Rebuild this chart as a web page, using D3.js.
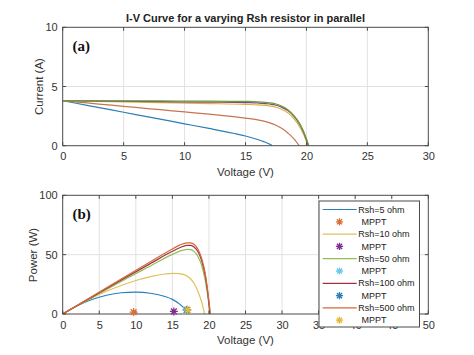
<!DOCTYPE html>
<html><head><meta charset="utf-8">
<script src="https://cdn.jsdelivr.net/npm/d3@7"></script>
<style>body{margin:0;background:#fff}svg{display:block}text{font-family:"Liberation Sans",Arial,sans-serif}</style>
</head><body><svg id="c" width="474" height="355"></svg>
<script>
// ---------- data ----------
const seriesNames = ["Rsh=5 ohm","Rsh=10 ohm","Rsh=50 ohm","Rsh=100 ohm","Rsh=500 ohm"];
const V_5   = [0,2,4,6,8,10,12,14,15,16,16.5,17,17.2];
const I_5   = [3.80,3.41,3.02,2.63,2.24,1.85,1.46,1.05,0.82,0.52,0.34,0.12,0];
const P_5   = [0,6.9,12.2,15.8,17.9,18.5,17.5,14.7,12.3,8.3,5.6,2.0,0];
const V_10  = [0,2,4,6,8,10,12,14,15,16,17,17.5,18,18.5,19,19.4];
const I_10  = [3.80,3.61,3.42,3.23,3.04,2.85,2.66,2.45,2.33,2.18,1.93,1.73,1.45,1.05,0.55,0];
const P_10  = [0,7.1,13.6,19.2,24.0,28.2,31.5,33.7,34.2,34.0,32.0,29.5,25.5,19.0,10.3,0];
const V_50  = [0,4,8,12,15,16,17,17.5,18,18.5,19,19.5,20,20.1];
const I_50  = [3.80,3.72,3.64,3.56,3.49,3.45,3.35,3.25,3.06,2.75,2.25,1.5,0.35,0];
const P_50  = [0,13.8,27.5,40.5,50.2,53,54.5,54.2,52.5,48.5,41,28,7,0];
const V_100 = [0,4,8,12,15,16,17,17.5,18,18.5,19,19.5,20,20.15];
const I_100 = [3.80,3.76,3.72,3.68,3.64,3.61,3.52,3.42,3.24,2.94,2.45,1.7,0.5,0];
const P_100 = [0,14.3,28.6,42.5,52.8,55.8,57.8,57.8,56.2,52.5,45,32,9,0];
const V_500 = [0,4,8,12,15,16,17,17.5,18,18.5,19,19.5,20,20.2];
const I_500 = [3.80,3.79,3.78,3.77,3.74,3.71,3.62,3.52,3.33,3.02,2.52,1.78,0.6,0];
const P_500 = [0,14.8,29.5,44,54.8,58,60,60,58.5,54.5,47,34,11,0];
const mppV  = [9.7,15.2,16.9,17.0,17.1];
const mppP  = [1.6,2.2,3.4,3.5,3.5];
const xTicksA = [0,5,10,15,20,25,30];
const yTicksA = [0,5,10];
const xTicksB = [0,5,10,15,20,25,30,35,40,45,50];
const yTicksB = [0,50,100];

// ---------- styles ----------
const topColors  = ["#2a7fb8","#c8744f","#e0b040","#7a4a80","#6f9c3a"];
const lineColors = ["#2a7fb8","#e0c060","#8fbf5a","#a23040","#d06a3c"];
const markColors = ["#d9703a","#7e2f8e","#6cc6ee","#2a7fb8","#e6b83a"];
const Vs = [V_5,V_10,V_50,V_100,V_500];
const Is = [I_5,I_10,I_50,I_100,I_500];
const Ps = [P_5,P_10,P_50,P_100,P_500];

const svg = d3.select("#c");
const L = 62.7, R = 428.3;
const axisCol = "#4a4a4a", gridCol = "#e2e2e2", txtCol = "#333";

function panel(top, bottom, xDom, yDom, xt, yt, id) {
  const x = d3.scaleLinear().domain(xDom).range([L, R]);
  const y = d3.scaleLinear().domain(yDom).range([bottom, top]);
  const g = svg.append("g");
  g.append("rect").attr("x",L).attr("y",top).attr("width",R-L).attr("height",bottom-top).attr("fill","#fff");
  // grid
  g.selectAll(".gx").data(xt.slice(1,-1)).enter().append("line")
    .attr("x1",d=>x(d)).attr("x2",d=>x(d)).attr("y1",top).attr("y2",bottom)
    .attr("stroke",gridCol).attr("stroke-width",1);
  g.selectAll(".gy").data(yt.slice(1,-1)).enter().append("line")
    .attr("y1",d=>y(d)).attr("y2",d=>y(d)).attr("x1",L).attr("x2",R)
    .attr("stroke",gridCol).attr("stroke-width",1);
  svg.append("clipPath").attr("id",id).append("rect")
    .attr("x",L).attr("y",top).attr("width",R-L).attr("height",bottom-top);
  return {x,y,g,top,bottom};
}
function frame(p, xt, yt) {
  const {x,y,g,top,bottom} = p;
  const ax = g.append("g");
  // ticks inside (bottom/top/left/right)
  const tl = 3.5;
  xt.forEach(d=>{
    ax.append("line").attr("x1",x(d)).attr("x2",x(d)).attr("y1",bottom).attr("y2",bottom-tl).attr("stroke",axisCol);
    ax.append("line").attr("x1",x(d)).attr("x2",x(d)).attr("y1",top).attr("y2",top+tl).attr("stroke",axisCol);
  });
  yt.forEach(d=>{
    ax.append("line").attr("y1",y(d)).attr("y2",y(d)).attr("x1",L).attr("x2",L+tl).attr("stroke",axisCol);
    ax.append("line").attr("y1",y(d)).attr("y2",y(d)).attr("x1",R).attr("x2",R-tl).attr("stroke",axisCol);
  });
  ax.append("rect").attr("x",L).attr("y",top).attr("width",R-L).attr("height",bottom-top)
    .attr("fill","none").attr("stroke",axisCol).attr("stroke-width",1);
  // labels
  const xa = d3.axisBottom(x).tickValues(xt).tickSize(0).tickPadding(7);
  const gx = g.append("g").attr("transform",`translate(0,${bottom})`).call(xa);
  gx.select(".domain").remove();
  gx.selectAll("text").attr("fill",txtCol).style("font-size","11px");
  const ya = d3.axisLeft(y).tickValues(yt).tickSize(0).tickPadding(5);
  const gy = g.append("g").attr("transform",`translate(${L},0)`).call(ya);
  gy.select(".domain").remove();
  gy.selectAll("text").attr("fill",txtCol).style("font-size","11px");
}

const line = (xs, ys, x, y) => d3.line().curve(d3.curveMonotoneX).x((d,i)=>x(xs[i])).y((d,i)=>y(ys[i]))(xs);

// ---------- panel (a) ----------
const pa = panel(27.3, 145.7, [0,30], [0,10], xTicksA, yTicksA, "clipA");
Vs.forEach((vs,k)=>{
  pa.g.append("path").attr("d", line(vs, Is[k], pa.x, pa.y)).attr("fill","none")
    .attr("stroke",topColors[k]).attr("stroke-width",1.2).attr("clip-path","url(#clipA)");
});
frame(pa, xTicksA, yTicksA);
svg.append("text").attr("x",(L+R)/2).attr("y",21.5).attr("text-anchor","middle")
  .style("font-size","11px").style("font-weight","bold").attr("fill","#222")
  .text("I-V Curve for a varying Rsh resistor in parallel");
svg.append("text").attr("x",(L+R)/2).attr("y",176).attr("text-anchor","middle")
  .style("font-size","11.5px").attr("fill",txtCol).text("Voltage (V)");
svg.append("text").attr("transform","translate(43,86.5) rotate(-90)").attr("text-anchor","middle")
  .style("font-size","11.5px").attr("fill",txtCol).text("Current (A)");
svg.append("text").attr("x",72.5).attr("y",50.5).style("font-family","'Liberation Serif','Times New Roman',serif")
  .style("font-size","15px").style("font-weight","bold").attr("fill","#111").text("(a)");

// ---------- panel (b) ----------
const pb = panel(195.3, 314, [0,50], [0,100], xTicksB, yTicksB, "clipB");
Vs.forEach((vs,k)=>{
  pb.g.append("path").attr("d", line(vs, Ps[k], pb.x, pb.y)).attr("fill","none")
    .attr("stroke",lineColors[k]).attr("stroke-width",1.2).attr("clip-path","url(#clipB)");
});
frame(pb, xTicksB, yTicksB);
const star = r => `M${-r},0H${r}M0,${-r}V${r}M${-r*0.72},${-r*0.72}L${r*0.72},${r*0.72}M${-r*0.72},${r*0.72}L${r*0.72},${-r*0.72}`;
mppV.forEach((v,k)=>{
  svg.append("path").attr("d",star(4)).attr("transform",`translate(${pb.x(v)},${pb.y(mppP[k])})`)
    .attr("fill","none").attr("stroke",markColors[k]).attr("stroke-width",1.3);
});
svg.append("text").attr("x",(L+R)/2).attr("y",344).attr("text-anchor","middle")
  .style("font-size","11.5px").attr("fill",txtCol).text("Voltage (V)");
svg.append("text").attr("transform","translate(37,255) rotate(-90)").attr("text-anchor","middle")
  .style("font-size","11.5px").attr("fill",txtCol).text("Power (W)");
svg.append("text").attr("x",72.5).attr("y",218.5).style("font-family","'Liberation Serif','Times New Roman',serif")
  .style("font-size","15px").style("font-weight","bold").attr("fill","#111").text("(b)");

// ---------- legend ----------
const lg = svg.append("g");
lg.append("rect").attr("x",319).attr("y",201).attr("width",100.5).attr("height",126)
  .attr("fill","#fff").attr("stroke",axisCol).attr("stroke-width",1);
const rowY = i => 209.5 + i*12.3;
seriesNames.forEach((name,k)=>{
  const y1 = rowY(2*k), y2 = rowY(2*k+1);
  lg.append("line").attr("x1",322.7).attr("x2",356.7).attr("y1",y1).attr("y2",y1)
    .attr("stroke",lineColors[k]).attr("stroke-width",1.2);
  lg.append("text").attr("x",358.3).attr("y",y1).attr("dy","0.35em").style("font-size","9px").attr("fill","#222").text(name);
  lg.append("path").attr("d",star(3.6)).attr("transform",`translate(339.5,${y2})`)
    .attr("fill","none").attr("stroke",markColors[k]).attr("stroke-width",1.3);
  lg.append("text").attr("x",361.5).attr("y",y2).attr("dy","0.35em").style("font-size","9px").attr("fill","#222").text("MPPT");
});
</script></body></html>
